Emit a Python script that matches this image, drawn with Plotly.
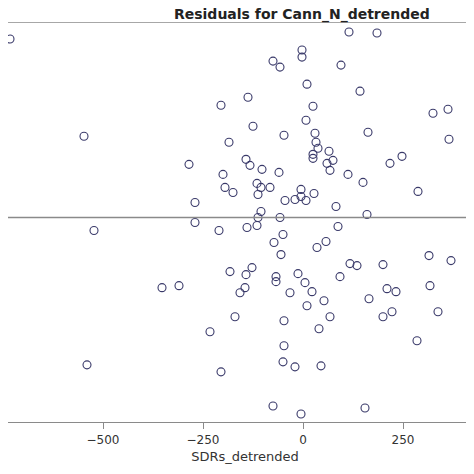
import plotly.graph_objects as go

sdrs = [-732.5,-547.5,-205,-137.5,-185,-285,-200,-195,-175,-270,-142.5,115,185,-2.5,-2.5,-75,-57.5,95,10,142.5,
        25,325,7.5,-125,-47.5,30,162.5,32.5,37.5,65,25,25,-132.5,-102.5,-60,75,60,67.5,112.5,217.5,
        247.5,-115,-105,-82.5,-112.5,-5,27.5,-45,-20,7.5,-5,150,287.5,82.5,160,-105,-112.5,-57.5,362.5,365,
        315,370,317.5,232.5,222.5,337.5,285,-270,-522.5,-210,-140,-182.5,-142.5,-145,-157.5,-352.5,-310,-170,-232.5,-540,
        -205,-115,87.5,-72.5,-50,35,57.5,-55,-127.5,-67.5,-67.5,-12.5,5,92.5,117.5,135,200,-32.5,22.5,210,
        165,10,52.5,-47.5,67.5,200,40,-47.5,-50,-20,45,-75,-5,155]
resid = [178,81,112,120,75,53,43,30,25,15,58,185,184,167,160,156,150,152,133,126,
         111,104,97,91,82,84,85,75,69,66,63,59,52,48,45,57,54,47,43,54,
         61,34,30,30,23,28,24,17,18,17,21,35,26,11,3,6,0,0,108,78,
         -38,-43,-68,-74,-94,-94,-123,-5,-13,-13,-10,-54,-57,-70,-75,-70,-68,-99,-114,-147,
         -154,-8,-9,-25,-17,-30,-24,-37,-50,-59,-64,-56,-65,-59,-46,-48,-47,-75,-74,-71,
         -81,-88,-83,-103,-99,-99,-111,-128,-144,-149,-148,-188,-196,-190]
tick_vals = [-500, -250, 0, 250]
tick_text = ["\u2212500", "\u2212250", "0", "250"]
cut_tick_val = -750
cut_tick_text = "\u2212750"

fig = go.Figure(go.Scatter(x=sdrs, y=resid, mode="markers",
    marker=dict(symbol="circle-open", size=8, color="#3a3a6a", line=dict(width=1.1))))

fig.add_hline(y=0, line=dict(color="#8a8a8a", width=1.3))
fig.add_hline(y=195, line=dict(color="#8a8a8a", width=1.5))

fig.add_annotation(x=cut_tick_val, xref="x", y=0, yref="paper", yshift=-9,
                   text=cut_tick_text, showarrow=False, yanchor="top",
                   font=dict(size=12, color="#333333"))

fig.update_layout(
    width=474, height=474, margin=dict(l=0, r=0, t=14, b=60),
    paper_bgcolor="white", plot_bgcolor="white", showlegend=False,
    font=dict(family="DejaVu Sans", color="#333333"),
    title=dict(text="<b>Residuals for Cann_N_detrended</b>", x=0.62, xanchor="center",
               y=0.998, yanchor="top", font=dict(size=14, color="#222222")),
    xaxis=dict(range=[-737.5, 447.5], tickvals=tick_vals, ticktext=tick_text,
               showgrid=False, zeroline=False, showline=True, linecolor="#8a8a8a", linewidth=1.3,
               ticks="outside", ticklen=6, tickcolor="#8a8a8a", tickfont=dict(size=12, color="#333333"),
               title=dict(text="SDRs_detrended", font=dict(size=13, color="#333333"), standoff=6)),
    yaxis=dict(range=[-204, 195], visible=False),
)
fig.write_html("out.html")
